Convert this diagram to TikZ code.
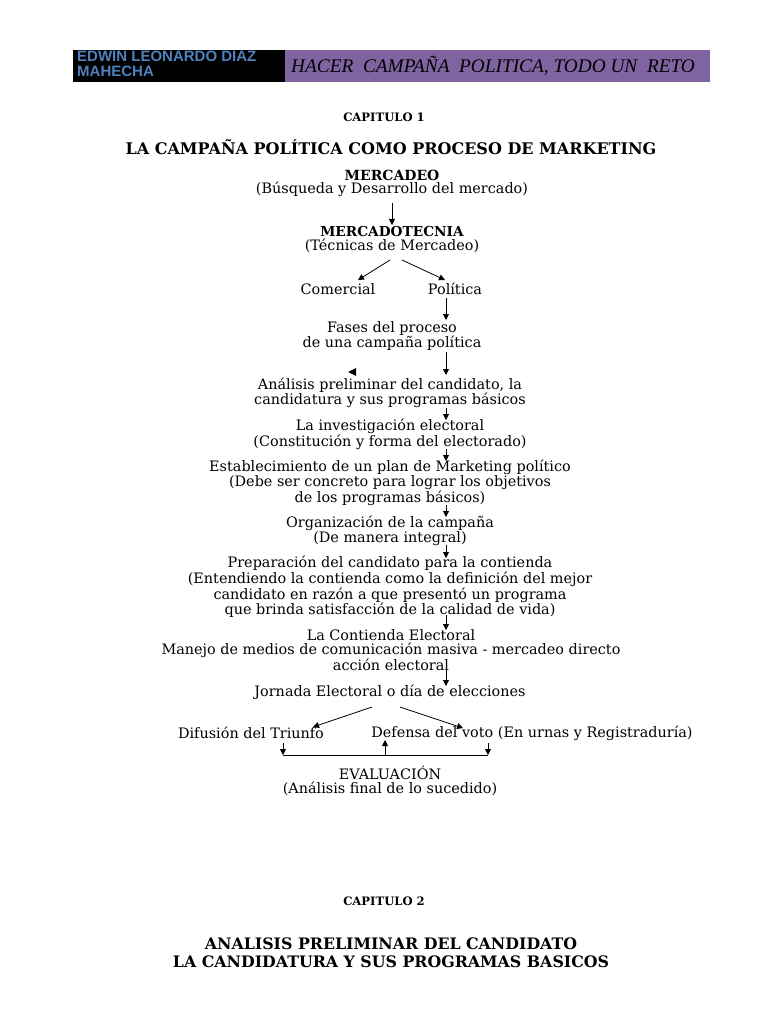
\documentclass[tikz,border=0pt]{standalone}
\usepackage{fontspec}
\setmainfont{DejaVu Serif}
\newfontfamily\hdrfont{Liberation Serif}
\newfontfamily\hsans{Liberation Sans}
\usetikzlibrary{arrows.meta}
\definecolor{hpurple}{HTML}{8064A2}
\definecolor{hblue}{HTML}{4F81BD}
\begin{document}
\begin{tikzpicture}[x=1pt,y=-1pt,
  t/.style={align=center,font=\fontsize{14.4}{14}\selectfont,inner sep=0pt},
  tb/.style={t,font=\fontsize{11.5}{14}\selectfont\bfseries},
  ar/.style={-{Triangle[length=6pt,width=6pt]},line width=0.8pt}]
\useasboundingbox (0,0) rectangle (768,1024);
\fill[black] (73,50) rectangle (285,82);
\fill[hpurple] (285,50) rectangle (710,82);
\node[anchor=north west,align=left,inner sep=0pt,text=hblue,font=\fontsize{15}{15}\selectfont\hsans\bfseries] (hn) at (77,51) {EDWIN LEONARDO DIAZ\\MAHECHA};
\node[anchor=west,inner sep=0pt,font=\fontsize{19.3}{19}\selectfont\hdrfont\itshape] (ht) at (291,66) {HACER\ \ CAMPAÑA\ \ POLITICA, TODO UN\ \ RETO};

\node[tb,font=\fontsize{11.6}{12}\selectfont\bfseries] (c1) at (384,117) {CAPITULO 1};
\node[tb,font=\fontsize{16}{14}\selectfont\bfseries] (ti) at (391,147) {LA CAMPAÑA POLÍTICA COMO PROCESO DE MARKETING};
\node[tb,font=\fontsize{14}{12}\selectfont\bfseries] (m1) at (392,175) {MERCADEO};
\node[t] (m1b) at (392,189) {(Búsqueda y Desarrollo del mercado)};
\node[tb,font=\fontsize{13.7}{12}\selectfont\bfseries] (m2) at (392,232) {MERCADOTECNIA};
\node[t] (m2b) at (392,246) {(Técnicas de Mercadeo)};
\node[t] (com) at (338,289) {Comercial};
\node[t] (pol) at (455,289) {Política};
\node[t] (fas) at (392,336) {Fases del proceso\\de una campaña política};
\node[t] (an) at (390,393) {Análisis preliminar del candidato, la\\candidatura y sus programas básicos};
\node[t] (inv) at (390,434) {La investigación electoral\\(Constitución y forma del electorado)};
\node[t] (est) at (390,483) {Establecimiento de un plan de Marketing político\\(Debe ser concreto para lograr los objetivos\\de los programas básicos)};
\node[t] (org) at (390,531) {Organización de la campaña\\(De manera integral)};
\node[t] (pre) at (390,587) {Preparación del candidato para la contienda\\(Entendiendo la contienda como la definición del mejor\\candidato en razón a que presentó un programa\\que brinda satisfacción de la calidad de vida)};
\node[t] (con) at (391,650) {La Contienda Electoral\\Manejo de medios de comunicación masiva - mercadeo directo\\acción electoral};
\node[t] (jor) at (390,692) {Jornada Electoral o día de elecciones};
\node[t] (dif) at (251,733) {Difusión del Triunfo};
\node[t] (def) at (532,733) {Defensa del voto (En urnas y Registraduría)};
\node[t] (ev) at (390,781) {EVALUACIÓN\\(Análisis final de lo sucedido)};
\node[tb,font=\fontsize{11.6}{12}\selectfont\bfseries] (c2) at (384,901) {CAPITULO 2};
\node[tb,font=\fontsize{15.8}{18}\selectfont\bfseries] (t2) at (391,953) {ANALISIS PRELIMINAR DEL CANDIDATO\\LA CANDIDATURA Y SUS PROGRAMAS BASICOS};

\draw[ar] (392,203) -- (392,225);
\draw[ar] (390,260) -- (358,280);
\draw[ar] (402,260) -- (445,280);
\draw[ar] (446,298) -- (446,320);
\draw[ar] (446,352) -- (446,375);
\fill (348,372) -- (356,368) -- (356,376) -- cycle;
\draw[ar] (446,408) -- (446,420);
\draw[ar] (446,449) -- (446,461);
\draw[ar] (446,505) -- (446,517);
\draw[ar] (446,545) -- (446,558);
\draw[ar] (446,615) -- (446,630);
\draw[ar] (446,670) -- (446,686);
\draw[ar] (372,707) -- (313,727);
\draw[ar] (400,707) -- (463,728);
\coordinate (l) at (283,755);
\coordinate (r) at (488,755);
\draw[line width=0.8pt] (l) -- (r);
\draw[ar] (283,743) -- (l);
\draw[ar] (488,743) -- (r);
\draw[ar] (385,755) -- (385,740);
\end{tikzpicture}
\end{document}
